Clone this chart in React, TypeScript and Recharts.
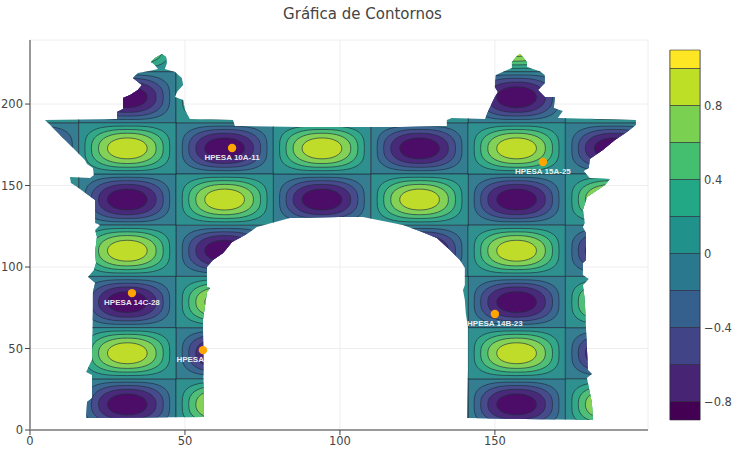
import React from 'react';
import { ScatterChart, Scatter, XAxis, YAxis, CartesianGrid, BarChart, Bar, ReferenceArea } from 'recharts';

// ---- chart text and axis ticks
const chartTitle = 'Gráfica de Contornos';
const xTicks = [0, 50, 100, 150];
const yTicks = [0, 50, 100, 150, 200];
const colorTicks = [-0.8, -0.4, 0, 0.4, 0.8];

// ---- field: centre of every contour cell and its peak
const cellCentersX = [0, 31.4, 62.8, 94.2, 125.7, 157, 188.5];
const cellCentersY = [235.6, 204.2, 172.8, 141.4, 110, 78.5, 47.1, 15.7];
const cellPeaks = [
  [-1, 1, -1, 1, -1, 1, -1],
  [1, -1, 1, -1, 1, -1, 1],
  [-1, 1, -1, 1, -1, 1, -1],
  [1, -1, 1, -1, 1, -1, 1],
  [-1, 1, -1, 1, -1, 1, -1],
  [1, -1, 1, -1, 1, -1, 1],
  [-1, 1, -1, 1, -1, 1, -1],
  [1, -1, 1, -1, 1, -1, 1],
];
const cellHalfSpan = 15.7;

// contour levels (magnitude), half-extent of the ring in data units, and how square it looks
const ringLevels = [0.2, 0.4, 0.6, 0.8];
const ringHalfSpans = [13.7, 11.6, 9.3, 6.4];
const ringSquareness = [3.2, 2.6, 2.3, 2.1];

// band colours as the picture shows them
const positiveFills = ['#2f918f', '#33a888', '#4fbe76', '#84d158', '#bfdc2c'];
const negativeFills = ['#347e92', '#3a6690', '#474c8c', '#4a2a7a', '#4b1167'];

// ---- colour bar bands, from zero outward
const barNegativeBands = [0.2, 0.2, 0.2, 0.2, 0.1];
const barPositiveBands = [0.2, 0.2, 0.2, 0.2, 0.2, 0.1];
const barNegativeColors = ['#2a788e', '#355f8d', '#414487', '#482475', '#440154'];
const barPositiveColors = ['#21918c', '#22a884', '#44bf70', '#7ad151', '#bddf26', '#fde725'];

// ---- named wells
const markerNames = ['HPESA 10A-11', 'HPESA 15A-25', 'HPESA 14C-28', 'HPESA 14B-23', 'HPESA'];
const markerX = [65.2, 165.5, 32.9, 150, 55.8];
const markerY = [173, 164.4, 84, 71.2, 49];

// ---- outline of the arch, in data units
const archOutline = [
  [4.8, 190.2], [28.1, 190.8], [28.1, 195.1], [30, 196.9], [30, 203.7], [32.3, 205.5], [34.8, 208.6], [36.1, 211.7],
  [33.2, 216], [34.8, 219], [38.1, 220.2], [41.3, 221.5], [40, 224.5], [39, 225.8], [40.3, 228.2], [42.6, 230.7],
  [43.9, 228.8], [44.2, 225.2], [43.5, 221.5], [46.8, 219.6], [49, 216], [49.4, 211.7], [47.4, 207.4], [46.8, 204.3],
  [49.4, 202.5], [50, 196.3], [51.6, 190.8], [65.5, 190.2], [66.1, 186.5], [87.1, 185.9], [100, 185.9], [119.4, 185.9],
  [134.5, 186.5], [134.5, 190.2], [136.1, 191.4], [146.8, 190.8], [147.7, 195.1], [150, 204.3], [151, 207.4], [150, 210.4],
  [150.3, 217.8], [155.5, 222.1], [155.5, 225.8], [157.1, 229.4], [158.1, 230.7], [159, 228.8], [160.3, 225.8], [160.3, 222.7],
  [164.5, 220.2], [166.1, 217.8], [166.1, 212.9], [163.9, 208.6], [166.1, 204.3], [169.4, 204.3], [169, 197.5], [171.9, 195.7],
  [170.3, 191.4], [195.5, 190.2], [195.5, 187.1], [192.6, 182.8], [188.7, 177.9], [184.8, 171.8], [180.6, 166.3], [180.3, 160.7],
  [178.7, 158.9], [180.6, 154.6], [187.1, 154], [185.5, 150.3], [179.7, 142.9], [178.4, 135], [179, 127], [178.4, 124.5],
  [179.4, 120.9], [179.4, 104.3], [178.4, 102.5], [178.4, 95.1], [180.3, 92.6], [178.4, 89], [179, 79.8], [180, 36.8],
  [181.3, 34.4], [179.7, 31.9], [181.3, 16.6], [181.6, 6.1], [141, 7.4], [141.3, 36.8], [141.3, 63.2], [140.6, 71.8],
  [140.3, 79.8], [139.7, 85.9], [140.3, 89], [140.3, 99.4], [138.7, 104.3], [135.5, 110.4], [131.3, 117.8], [126.5, 121.5],
  [120.3, 125.8], [107.4, 130.7], [100, 130.7], [83.9, 130.1], [73.2, 124.5], [69.4, 119.6], [65.2, 115.3], [62.3, 108.6],
  [59, 104.3], [57.1, 100], [57.1, 87.7], [58.1, 87.1], [57.1, 84.7], [55.8, 67.5], [56.1, 8], [18.1, 7.4],
  [18.4, 17.2], [20, 19.6], [20, 33.7], [18.1, 35.6], [20, 42.9], [20.3, 75.5], [20.3, 84.7], [21, 90.2],
  [18.7, 93.9], [20.6, 98.2], [21.3, 102.5], [21, 109.2], [21.6, 118.4], [21, 122.7], [22.6, 125.8], [21, 127],
  [21, 141.1], [15.2, 149.1], [13.2, 151.5], [12.9, 155.2], [19.4, 154.6], [20.6, 156.4], [20.3, 160.7], [18.4, 163.2],
  [17.7, 165.6], [13.9, 173], [9.7, 181], [6.5, 187.1],
];

// ---- building the series
const RING_VERTICES = 40;
const ARCH_ID = 'arch-outline';
const SOFT_ID = 'soft-edge';

type Cell = { x: number; y: number; peak: number };
const cells: Cell[] = [];
cellCentersY.forEach((y, r) => cellCentersX.forEach((x, c) => cells.push({ x, y, peak: cellPeaks[r][c] })));

const cellRect = (c: Cell) => [
  { x: c.x - cellHalfSpan, y: c.y - cellHalfSpan },
  { x: c.x + cellHalfSpan, y: c.y - cellHalfSpan },
  { x: c.x + cellHalfSpan, y: c.y + cellHalfSpan },
  { x: c.x - cellHalfSpan, y: c.y + cellHalfSpan },
];

const ringPolygon = (c: Cell, half: number, power: number) => {
  const out: { x: number; y: number }[] = [];
  for (let i = 0; i < RING_VERTICES; i++) {
    const t = (i / RING_VERTICES) * Math.PI * 2;
    const a = Math.cos(t);
    const b = Math.sin(t);
    out.push({
      x: c.x + half * Math.sign(a) * Math.pow(Math.abs(a), 2 / power),
      y: c.y + half * Math.sign(b) * Math.pow(Math.abs(b), 2 / power),
    });
  }
  return out;
};

const pathOf = (points: any[], perPolygon: number) => {
  let d = '';
  points.forEach((p, i) => {
    d += `${i % perPolygon === 0 ? 'M' : 'L'}${p.x.toFixed(2)},${p.y.toFixed(2)}`;
    if (i % perPolygon === perPolygon - 1) d += 'Z';
  });
  return d;
};

const polygonLine = (fill: string, perPolygon: number) => (props: any) => (
  <g clipPath={`url(#${ARCH_ID})`}>
    <path
      d={pathOf(props.points, perPolygon)}
      fill={fill}
      stroke="#1d2a3a"
      strokeOpacity={0.8}
      strokeWidth={0.8}
      filter={`url(#${SOFT_ID})`}
    />
  </g>
);

const archLine = (props: any) => (
  <g>
    <clipPath id={ARCH_ID}>
      <path d={pathOf(props.points, props.points.length)} />
    </clipPath>
    <filter id={SOFT_ID} x="-5%" y="-5%" width="110%" height="110%">
      <feGaussianBlur stdDeviation={0.35} />
    </filter>
  </g>
);

const NoPoint = () => <g />;

type Layer = { key: string; data: { x: number; y: number }[]; fill: string; per: number };
const layers: Layer[] = [];
[-1, 1].forEach((sign) => {
  const chosen = cells.filter((c) => c.peak === sign);
  const fills = sign > 0 ? positiveFills : negativeFills;
  layers.push({ key: `cell${sign}`, data: chosen.flatMap(cellRect), fill: fills[0], per: 4 });
});
ringLevels.forEach((_, i) => {
  [-1, 1].forEach((sign) => {
    const chosen = cells.filter((c) => c.peak === sign);
    const fills = sign > 0 ? positiveFills : negativeFills;
    layers.push({
      key: `ring${i}${sign}`,
      data: chosen.flatMap((c) => ringPolygon(c, ringHalfSpans[i], ringSquareness[i])),
      fill: fills[i + 1],
      per: RING_VERTICES,
    });
  });
});

const archData = archOutline.map(([x, y]) => ({ x, y }));
const markers = markerNames.map((name, i) => ({ name, x: markerX[i], y: markerY[i] }));

const MarkerShape = (props: any) => {
  const { cx, cy, payload } = props;
  const short = payload.name.length < 8;
  return (
    <g>
      <circle cx={cx} cy={cy} r={4.2} fill="#ffa500" />
      <text
        x={short ? cx + 1 : cx}
        y={cy + 12}
        textAnchor={short ? 'end' : 'middle'}
        fontFamily="'Liberation Sans', Arial, sans-serif"
        fontSize={8}
        fontWeight={700}
        fill="#ffffff"
        fillOpacity={0.9}
      >
        {payload.name}
      </text>
    </g>
  );
};

const barRow: Record<string, number | string> = { name: 'z' };
barNegativeBands.forEach((v, i) => (barRow[`n${i}`] = -v));
barPositiveBands.forEach((v, i) => (barRow[`p${i}`] = v));
const barData = [barRow];

const fmtColorTick = (v: number) => (v === 0 ? '0' : String(v).replace('-', '\u2212'));

const axisFont = { fontFamily: "'DejaVu Sans', sans-serif", fontSize: 11.5, fill: '#444' };

export default function App() {
  return (
    <div style={{ position: 'absolute', left: 0, top: 0, width: 753, height: 450, background: '#fff' }}>
      <div
        style={{
          position: 'absolute',
          left: 0,
          top: 2,
          width: 725,
          textAlign: 'center',
          fontFamily: "'DejaVu Sans', sans-serif",
          fontSize: 15,
          color: '#444',
          lineHeight: '24px',
        }}
      >
        {chartTitle}
      </div>

      <div style={{ position: 'absolute', left: 0, top: 0 }}>
        <ScatterChart width={753} height={450} margin={{ top: 40, right: 105, bottom: 0, left: 0 }}>
          <CartesianGrid stroke="#eee" strokeWidth={1} />
          <XAxis
            type="number"
            dataKey="x"
            domain={[0, 199.4]}
            allowDataOverflow
            ticks={xTicks}
            height={20}
            tick={axisFont}
            tickSize={5}
            tickLine={{ stroke: '#444' }}
            axisLine={{ stroke: '#999', strokeWidth: 2 }}
          />
          <YAxis
            type="number"
            dataKey="y"
            domain={[0, 239.3]}
            allowDataOverflow
            ticks={yTicks}
            width={30}
            tick={axisFont}
            tickSize={5}
            tickLine={{ stroke: '#444' }}
            axisLine={{ stroke: '#999', strokeWidth: 2 }}
          />
          <Scatter
            data={archData}
            isAnimationActive={false}
            shape={NoPoint}
            line={archLine}
            legendType="none"
          />
          {layers.map((l) => (
            <Scatter
              key={l.key}
              data={l.data}
              isAnimationActive={false}
              shape={NoPoint}
              line={polygonLine(l.fill, l.per)}
              legendType="none"
            />
          ))}
          <Scatter data={markers} isAnimationActive={false} shape={MarkerShape} legendType="none" />
        </ScatterChart>
      </div>

      <div style={{ position: 'absolute', left: 660, top: 0 }}>
        <BarChart
          width={93}
          height={450}
          data={barData}
          stackOffset="sign"
          barCategoryGap={0}
          margin={{ top: 50, right: 0, bottom: 30, left: 10 }}
        >
          <XAxis dataKey="name" hide />
          <YAxis
            orientation="right"
            type="number"
            domain={[-0.9, 1.1]}
            allowDataOverflow
            ticks={colorTicks}
            width={53}
            tick={axisFont}
            tickFormatter={fmtColorTick}
            tickLine={false}
            tickSize={0}
            tickMargin={4}
            axisLine={false}
          />
          {barNegativeBands.map((_, i) => (
            <Bar
              key={`n${i}`}
              dataKey={`n${i}`}
              stackId="z"
              fill={barNegativeColors[i]}
              stroke="#26263a"
              strokeWidth={0.6}
              isAnimationActive={false}
            />
          ))}
          {barPositiveBands.map((_, i) => (
            <Bar
              key={`p${i}`}
              dataKey={`p${i}`}
              stackId="z"
              fill={barPositiveColors[i]}
              stroke="#26263a"
              strokeWidth={0.6}
              isAnimationActive={false}
            />
          ))}
          <ReferenceArea y1={-0.9} y2={1.1} fill="none" stroke="#888" strokeWidth={1} ifOverflow="visible" />
        </BarChart>
      </div>
    </div>
  );
}
